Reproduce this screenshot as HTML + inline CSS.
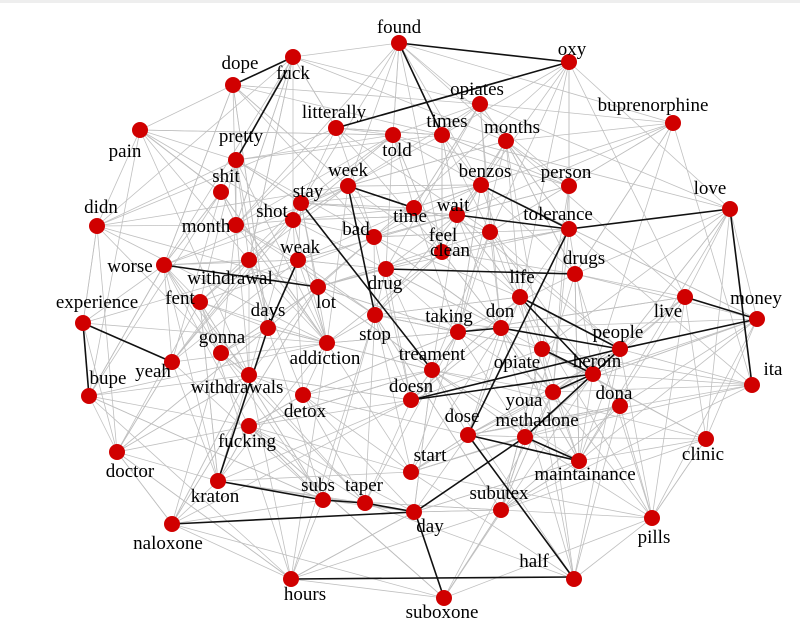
<!DOCTYPE html>
<html><head><meta charset="utf-8"><style>
html,body{margin:0;padding:0;background:#fff;width:800px;height:634px;overflow:hidden}
svg{display:block}
text{font-family:"Liberation Serif",serif;font-size:19px;fill:#000;text-anchor:middle}
</style></head><body>
<svg id="s" width="800" height="634" viewBox="0 0 800 634">
<rect x="0" y="0" width="800" height="3" fill="#eee"/>
<g id="gray" stroke="#b5b5b5" stroke-width="0.8" opacity="0.85"></g>
<g stroke="#111" stroke-width="1.6">
<line x1="399" y1="43" x2="569" y2="62"/>
<line x1="399" y1="43" x2="442" y2="135"/>
<line x1="569" y1="62" x2="336" y2="128"/>
<line x1="233" y1="85" x2="293" y2="57"/>
<line x1="287" y1="70" x2="236" y2="160"/>
<line x1="348" y1="186" x2="414" y2="208"/>
<line x1="348" y1="186" x2="375" y2="315"/>
<line x1="301" y1="203" x2="432" y2="370"/>
<line x1="164" y1="265" x2="318" y2="287"/>
<line x1="298" y1="260" x2="268" y2="328"/>
<line x1="268" y1="328" x2="218" y2="481"/>
<line x1="481" y1="185" x2="569" y2="229"/>
<line x1="457" y1="215" x2="569" y2="229"/>
<line x1="569" y1="229" x2="730" y2="209"/>
<line x1="730" y1="209" x2="752" y2="385"/>
<line x1="569" y1="229" x2="468" y2="435"/>
<line x1="386" y1="269" x2="575" y2="274"/>
<line x1="520" y1="297" x2="620" y2="349"/>
<line x1="520" y1="297" x2="593" y2="374"/>
<line x1="685" y1="297" x2="757" y2="319"/>
<line x1="458" y1="332" x2="501" y2="328"/>
<line x1="501" y1="328" x2="620" y2="349"/>
<line x1="542" y1="349" x2="593" y2="374"/>
<line x1="620" y1="349" x2="757" y2="319"/>
<line x1="411" y1="400" x2="593" y2="374"/>
<line x1="411" y1="400" x2="620" y2="349"/>
<line x1="553" y1="392" x2="593" y2="374"/>
<line x1="620" y1="349" x2="525" y2="437"/>
<line x1="525" y1="437" x2="415" y2="512"/>
<line x1="525" y1="437" x2="579" y2="461"/>
<line x1="468" y1="435" x2="579" y2="461"/>
<line x1="468" y1="435" x2="574" y2="579"/>
<line x1="415" y1="512" x2="444" y2="598"/>
<line x1="218" y1="481" x2="323" y2="500"/>
<line x1="323" y1="500" x2="365" y2="503"/>
<line x1="365" y1="503" x2="415" y2="512"/>
<line x1="172" y1="524" x2="415" y2="512"/>
<line x1="291" y1="579" x2="574" y2="577"/>
<line x1="83" y1="323" x2="172" y2="362"/>
<line x1="83" y1="323" x2="89" y2="396"/>
</g>
<g id="nodes" fill="#d00000"></g>
<g>
<text x="399" y="33">found</text><text x="572" y="55">oxy</text><text x="240" y="69">dope</text><text x="293" y="79">fuck</text>
<text x="334" y="118">litterally</text><text x="477" y="95">opiates</text><text x="447" y="127">times</text>
<text x="512" y="133">months</text><text x="653" y="111">buprenorphine</text><text x="125" y="157">pain</text>
<text x="241" y="142">pretty</text><text x="397" y="156">told</text><text x="485" y="177">benzos</text>
<text x="566" y="178">person</text><text x="226" y="182">shit</text><text x="348" y="176">week</text>
<text x="308" y="197">stay</text><text x="710" y="194">love</text><text x="453" y="211">wait</text>
<text x="410" y="222">time</text><text x="558" y="220">tolerance</text><text x="101" y="213">didn</text>
<text x="272" y="217">shot</text><text x="206" y="232">month</text><text x="356" y="235">bad</text>
<text x="443" y="241">feel</text><text x="450" y="256">clean</text><text x="584" y="264">drugs</text>
<text x="130" y="272">worse</text><text x="300" y="253">weak</text><text x="230" y="284">withdrawal</text>
<text x="385" y="289">drug</text><text x="522" y="283">life</text><text x="326" y="308">lot</text>
<text x="97" y="308">experience</text><text x="180" y="304">fent</text><text x="268" y="316">days</text>
<text x="449" y="322">taking</text><text x="500" y="317">don</text><text x="668" y="317">live</text>
<text x="756" y="304">money</text><text x="618" y="338">people</text><text x="222" y="343">gonna</text>
<text x="375" y="340">stop</text><text x="325" y="364">addiction</text><text x="432" y="360">treament</text>
<text x="153" y="377">yeah</text><text x="108" y="384">bupe</text><text x="237" y="393">withdrawals</text>
<text x="517" y="368">opiate</text><text x="597" y="367">heroin</text><text x="773" y="375">ita</text>
<text x="411" y="392">doesn</text><text x="524" y="406">youa</text><text x="614" y="399">dona</text>
<text x="305" y="417">detox</text><text x="462" y="422">dose</text><text x="537" y="426">methadone</text>
<text x="247" y="447">fucking</text><text x="703" y="460">clinic</text><text x="430" y="461">start</text>
<text x="585" y="480">maintainance</text><text x="130" y="477">doctor</text><text x="318" y="491">subs</text>
<text x="364" y="491">taper</text><text x="499" y="499">subutex</text><text x="215" y="502">kraton</text>
<text x="430" y="532">day</text><text x="168" y="549">naloxone</text><text x="654" y="543">pills</text>
<text x="534" y="567">half</text><text x="305" y="600">hours</text><text x="442" y="618">suboxone</text>
</g>
</svg>
<script>
var N=[[399,43],[569,62],[293,57],[233,85],[336,128],[393,135],[480,104],[442,135],[506,141],[673,123],[140,130],[236,160],[221,192],[348,186],[301,203],[293,220],[414,208],[236,225],[97,226],[374,237],[298,260],[164,265],[249,260],[318,287],[386,269],[200,302],[83,323],[481,185],[569,186],[730,209],[457,215],[569,229],[490,232],[442,252],[575,274],[520,297],[685,297],[757,319],[172,362],[221,353],[268,328],[249,375],[327,343],[375,315],[89,396],[303,395],[411,400],[249,426],[117,452],[218,481],[323,500],[365,503],[414,512],[172,524],[291,579],[458,332],[501,328],[620,349],[542,349],[593,374],[752,385],[553,392],[620,406],[468,435],[525,437],[706,439],[579,461],[411,472],[501,510],[652,518],[574,579],[444,598],[432,370]];
var ns="http://www.w3.org/2000/svg",g=document.getElementById('gray'),nd=document.getElementById('nodes');
var seed=7;function r(){seed=(seed*16807)%2147483647;return seed/2147483647;}
for(var i=0;i<N.length;i++){
 var d=[];for(var j=0;j<N.length;j++)if(j!=i){var dx=N[i][0]-N[j][0],dy=N[i][1]-N[j][1];d.push([dx*dx+dy*dy,j]);}
 d.sort(function(a,b){return a[0]-b[0]});
 for(var k=0;k<8;k++){var j=d[Math.floor(r()*Math.min(d.length,24))][1];
  var l=document.createElementNS(ns,'line');l.setAttribute('x1',N[i][0]);l.setAttribute('y1',N[i][1]);l.setAttribute('x2',N[j][0]);l.setAttribute('y2',N[j][1]);g.appendChild(l);}
}
for(var i=0;i<N.length;i++){var c=document.createElementNS(ns,'circle');c.setAttribute('cx',N[i][0]);c.setAttribute('cy',N[i][1]);c.setAttribute('r',8);nd.appendChild(c);}
</script>
</body></html>
